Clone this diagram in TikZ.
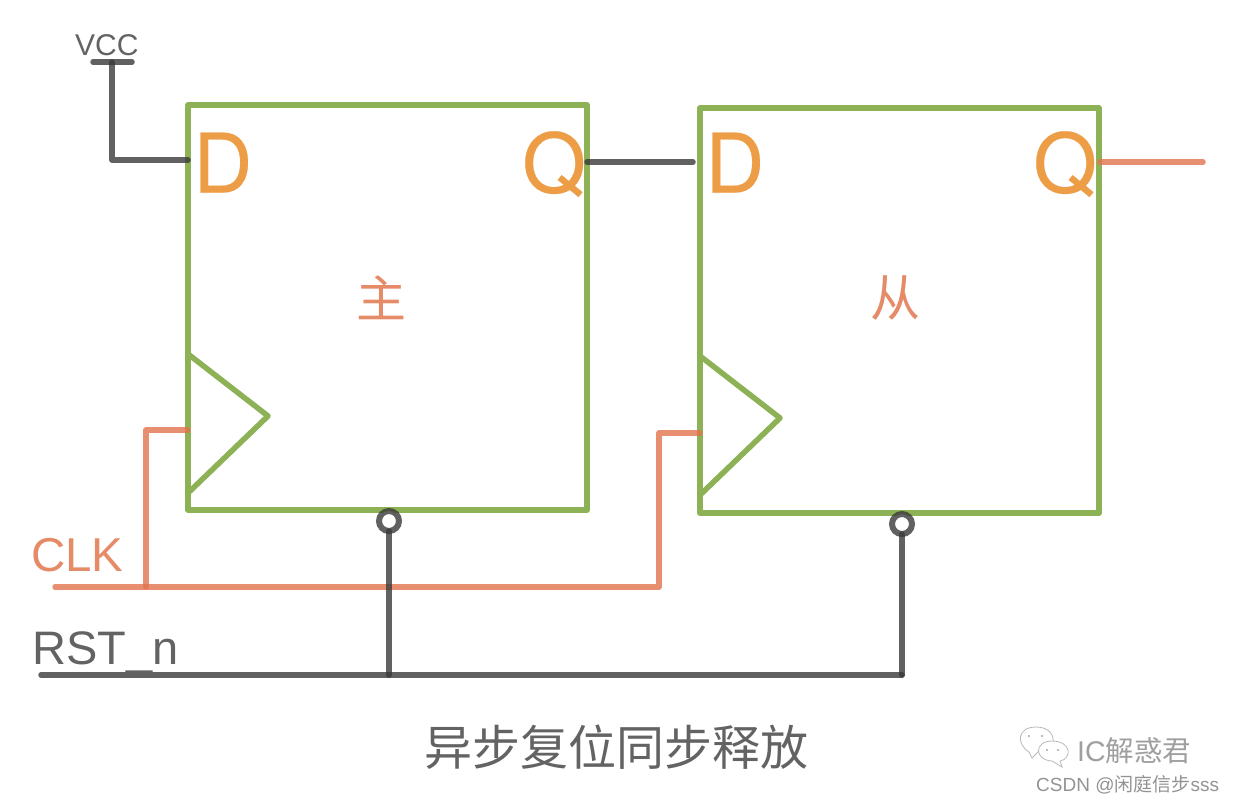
\documentclass[tikz,border=0pt]{standalone}
\usepackage{fontspec}
\setmainfont{Liberation Sans}
\newfontfamily\cjk{Noto Sans CJK SC}
\newfontfamily\pinfont[FakeBold=0.3]{TeX Gyre Heros}
\usetikzlibrary{calc}
\definecolor{ffgreen}{HTML}{8DB255}
\definecolor{pinorange}{HTML}{EC9D45}
\definecolor{salmon}{HTML}{E4734E}
\definecolor{wire}{HTML}{3A3A3A}
\definecolor{labgray}{HTML}{636363}
\definecolor{clktext}{HTML}{E58B68}
\tikzset{
  x=1pt,y=-1pt,
  ffbox/.style={draw=ffgreen,line width=5.5pt,line join=round,outer sep=0pt,minimum width=399pt,minimum height=405pt,inner sep=0pt,anchor=north west},
  clktri/.style={draw=ffgreen,line width=5.5pt,line cap=round,line join=round},
  blackwire/.style={draw=wire,draw opacity=.8,line width=5.5pt,line cap=round,line join=round},
  clkwire/.style={draw=salmon,draw opacity=.8,line width=5.5pt,line cap=round,line join=round},
  pin/.style={text=pinorange,font=\pinfont\fontsize{82}{82}\selectfont,inner sep=0pt,anchor=base west},
  bubble/.style={circle,draw=wire,draw opacity=.8,line width=6pt,minimum size=20pt,inner sep=0pt,outer sep=0pt,fill=white},
  biglab/.style={inner sep=0pt,anchor=base west},
}
\begin{document}
\begin{tikzpicture}
\useasboundingbox (0,0) rectangle (1233,804);
\fill[white] (0,0) rectangle (1233,804);

% flip-flops
\node[ffbox] (ffa) at (188,105) {};
\node[ffbox] (ffb) at (700,108) {};
\draw[clktri] (188,354) -- (268,416) -- (188,493);
\draw[clktri] (700,356) -- (780,418) -- (700,495);

% pin text
\node[pin] (da) at (193,192.5) {D};
\node[pin] (qa) at (522,192.5) {Q};
\node[pin] (db) at (705,192.5) {D};
\node[pin] (qb) at (1033,192.5) {Q};
\node[text=clktext,font=\cjk\fontsize{50}{50}\selectfont,inner sep=0pt] (zhu) at (381,298) {主};
\node[text=clktext,font=\cjk\fontsize{50}{50}\selectfont,inner sep=0pt] (cong) at (895,298) {从};

% anchor points
\coordinate (vcctop) at (112,62);
\coordinate (vccl) at (93,62);
\coordinate (vccr) at (132,62);
\coordinate (vccbend) at (112,160);
\coordinate (dain) at (188,160);
\coordinate (qaout) at (587,162);
\coordinate (dbin) at (693,162);
\coordinate (qbout) at (1100,162);
\coordinate (qbend) at (1203,162);
\coordinate (clkl) at (55,587);
\coordinate (clkaj) at (146,587);
\coordinate (clkab) at (146,430);
\coordinate (clkai) at (188,430);
\coordinate (clkbj) at (659,587);
\coordinate (clkbb) at (659,433);
\coordinate (clkbi) at (700,433);
\coordinate (rstl) at (41,675);
\coordinate (rstaj) at (389,675);
\coordinate (rstbj) at (902,675);

% wires
\draw[blackwire] (vccl) -- (vccr);
\draw[blackwire] (vcctop) -- (vccbend) -- (dain);
\draw[blackwire] (qaout) -- (dbin);
\draw[clkwire] (qbout) -- (qbend);
\draw[clkwire] (clkl) -- (clkbj) -- (clkbb) -- (clkbi);
\draw[clkwire] (clkaj) -- (clkab) -- (clkai);
\draw[blackwire] (rstl) -- (rstbj);
\node[bubble] (ba) at (389,521) {};
\node[bubble] (bb) at (902,524) {};
\draw[blackwire] (ba.south) -- (rstaj);
\draw[blackwire] (bb.south) -- (rstbj);

% labels
\node[biglab,text=labgray,font=\fontsize{30}{30}\selectfont] (vcc) at (75,55) {VCC};
\node[biglab,text=clktext,font=\fontsize{47.5}{48}\selectfont] (clk) at (31,571) {CLK};
\node[biglab,text=labgray,font=\fontsize{47}{47}\selectfont] (rst) at (32,664) {RST\_n};
\node[text=labgray,font=\cjk\fontsize{48}{48}\selectfont,inner sep=0pt] (title) at (616,747) {异步复位同步释放};

% watermark
\path[draw=gray!55,line width=.8pt,fill=white] (1029,752) .. controls (1016,744) and (1017,727) .. (1036,727) .. controls (1050,727) and (1054,736) .. (1053,742) -- (1040,750) -- (1032,758) -- cycle;
\path[draw=gray!55,line width=.8pt,fill=white] (1052,761) .. controls (1034,760) and (1034,741) .. (1052,741) .. controls (1072,741) and (1072,759) .. (1060,761) -- (1062,767) -- cycle;
\fill[gray!70] (1029,736) circle[radius=1.2] (1042,736) circle[radius=1.2] (1047,750) circle[radius=1.2] (1058,750) circle[radius=1.2];
\node[biglab,text=gray!75,font=\fontsize{28.5}{28}\selectfont] (wm) at (1077,761) {IC{\cjk\fontsize{28.5}{28}\selectfont 解惑君}};
\node[biglab,text=gray!85,font=\fontsize{19}{19}\selectfont] (csdn) at (1036,791) {CSDN @{\cjk\fontsize{19}{19}\selectfont 闲庭信步}sss};
\end{tikzpicture}
\end{document}
